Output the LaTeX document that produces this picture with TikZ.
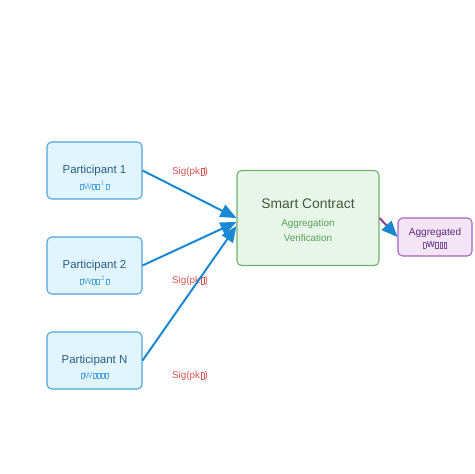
\documentclass[tikz,border=0pt]{standalone}
\usepackage{fontspec}
\setmainfont{Liberation Sans}
\usepackage{xcolor}
\usetikzlibrary{arrows.meta}

\definecolor{pfill}{HTML}{E1F5FE}
\definecolor{pline}{HTML}{4FA3D8}
\definecolor{ptext}{HTML}{2A5C86}
\definecolor{psub}{HTML}{2B8FD6}
\definecolor{arrowblue}{HTML}{1A88D2}
\definecolor{sfill}{HTML}{E8F5E9}
\definecolor{sline}{HTML}{6CB26C}
\definecolor{stext}{HTML}{3E5B39}
\definecolor{ssub}{HTML}{57A057}
\definecolor{afill}{HTML}{F3E5F5}
\definecolor{aline}{HTML}{A860C0}
\definecolor{atext}{HTML}{5E2A80}
\definecolor{sigred}{HTML}{D9534F}
\definecolor{linkpurple}{HTML}{8E3A9E}

% box for a glyph the font lacks
\newcommand{\tofu}{\kern0.06em{\setlength{\fboxsep}{0pt}\setlength{\fboxrule}{0.2pt}\fbox{\rule{0pt}{0.6em}\hspace{0.3em}}}\kern0.06em}

\tikzset{
    partbox/.style={draw=pline, fill=pfill, line width=0.8pt, rounded corners=3.5pt,
        minimum width=71.25pt, minimum height=42.75pt, inner sep=0pt},
    scbox/.style={draw=sline, fill=sfill, line width=0.8pt, rounded corners=3.5pt,
        minimum width=106.5pt, minimum height=71.25pt, inner sep=0pt},
    aggbox/.style={draw=aline, fill=afill, line width=0.8pt, rounded corners=3.5pt,
        minimum width=55.5pt, minimum height=28.5pt, inner sep=0pt},
    feed/.style={draw=arrowblue, line width=1.5pt, -{Triangle[length=12pt, width=10pt]}},
    siglabel/.style={text=sigred, font=\fontsize{7.4pt}{8pt}\selectfont, inner sep=0pt}
}

\begin{document}
\begin{tikzpicture}[x=0.75pt, y=-0.75pt]
                \useasboundingbox (0,0) rectangle (474,474);

                % participants
                \foreach \n/\y/\sub in {1/170.5/{\tofu W\tofu\tofu$^{1}$\tofu},
                                        2/265.5/{\tofu W\tofu\tofu$^{2}$\tofu},
                                        N/360.5/{\tofu W\tofu\tofu\tofu\tofu}} {
                        \node[partbox] (p\n) at (94.5,\y) {};
                        \node[text=ptext, font=\fontsize{8.6pt}{10pt}\selectfont, inner sep=0pt] (p\n t) at (p\n.center) {Participant \n};
                        \node[text=psub!80, font=\fontsize{6.4pt}{7pt}\selectfont, inner sep=0pt] (p\n s) at ([yshift=-11.25pt]p\n.center) {\sub};
                    }

                % smart contract
                \node[scbox] (sc) at (308,218) {};
                \node[text=stext, font=\fontsize{10.4pt}{12pt}\selectfont, inner sep=0pt] (sct) at ([yshift=10.5pt]sc.center) {Smart Contract};
                \node[text=ssub, font=\fontsize{7.4pt}{9pt}\selectfont, inner sep=0pt] (sca) at ([yshift=-4.5pt]sc.center) {Aggregation};
                \node[text=ssub, font=\fontsize{7.4pt}{9pt}\selectfont, inner sep=0pt] (scv) at ([yshift=-15pt]sc.center) {Verification};

                % aggregated result
                \node[aggbox] (agg) at (435,237) {};
                \node[text=atext, font=\fontsize{7.6pt}{9pt}\selectfont, inner sep=0pt] (aggt) at ([yshift=3pt]agg.center) {Aggregated};
                \node[text=atext!80, font=\fontsize{6.4pt}{7pt}\selectfont, inner sep=0pt] (aggs) at ([yshift=-6pt]agg.center) {\tofu\textbf{W}\tofu\tofu\tofu};

                % signatures
                \node[siglabel] (sig1) at (190,172) {Sig(pk\tofu)};
                \node[siglabel] (sig2) at (190,281) {Sig(pk\tofu)};
                \node[siglabel] (sigN) at (190,376) {Sig(pk\tofu)};

                \foreach \n/\s in {1/0, 2/-3, N/-6} {
                        \draw[feed] (p\n.east) -- ([yshift=\s pt]sc.west);
                    }

                \draw[draw=linkpurple, line width=1.5pt, -{Triangle[length=12pt, width=10pt, color=arrowblue]}] (sc.east) -- (agg.west);

            \end{tikzpicture}
\end{document}
